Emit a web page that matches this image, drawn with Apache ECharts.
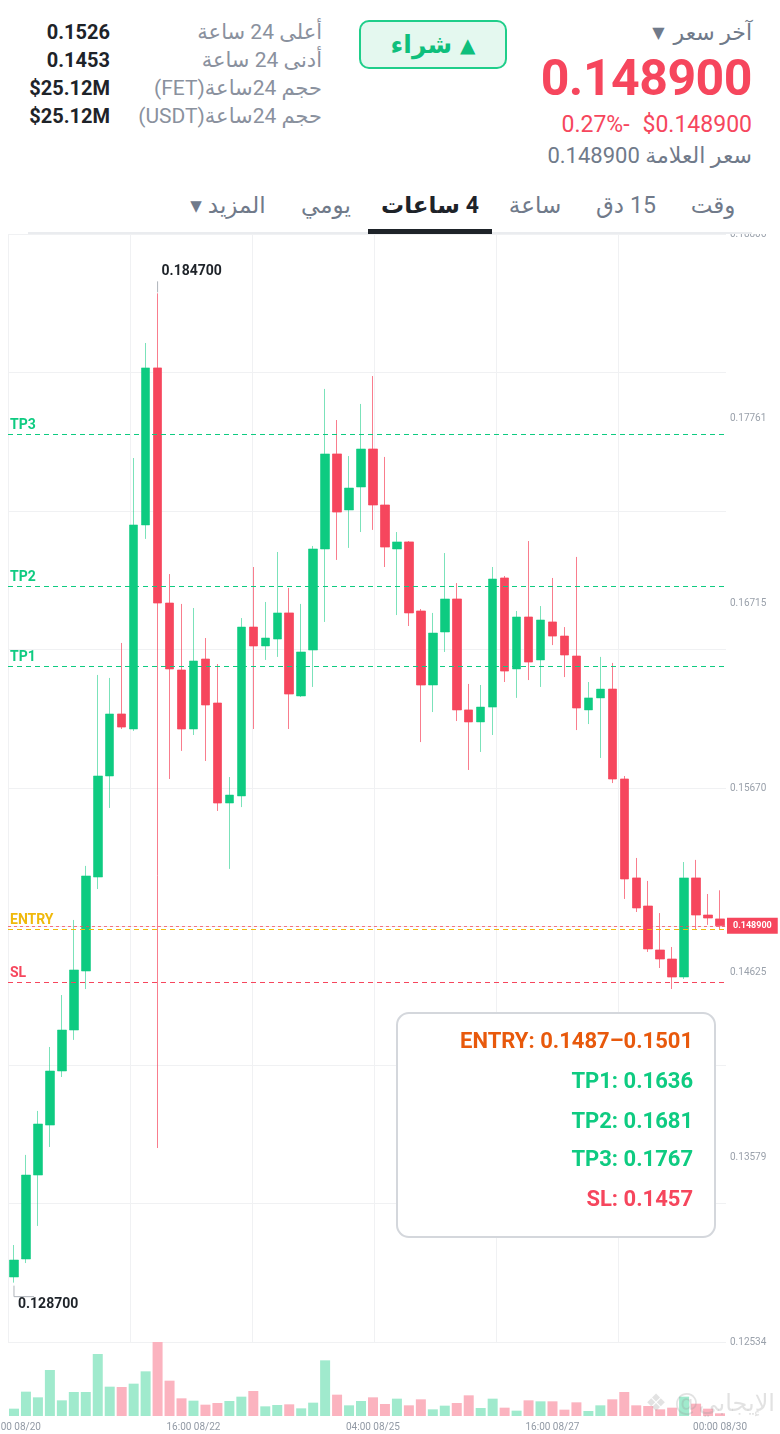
<!DOCTYPE html>
<html>
<head>
<meta charset="utf-8">
<script src="https://cdn.jsdelivr.net/npm/echarts@6/dist/echarts.min.js"></script>
<style>
html,body{margin:0;padding:0;background:#fff;width:780px;height:1434px;overflow:hidden;font-family:Roboto,"DejaVu Sans","Noto Sans",sans-serif;}
.t{position:absolute;white-space:nowrap;height:30px;line-height:30px;}
.lab{font-size:21px;color:#8a919e;direction:rtl;}
.val{font-size:20px;color:#1e2329;font-weight:bold;}
.tab{position:absolute;white-space:nowrap;height:30px;line-height:30px;font-size:23px;color:#707a8a;transform:translateX(-50%);top:191px;display:flex;gap:6px;}
#chart{position:absolute;left:-20px;top:214px;width:800px;height:1220px;}
#hdr{position:absolute;left:0;top:0;width:780px;height:234px;z-index:5;background:#fff;}
</style>
</head>
<body>
<div id="chart"></div>
<div id="hdr">
  <div class="t" style="right:28px;top:18px;font-size:22px;color:#707a8a;display:flex;gap:9px;"><span style="font-size:16px;">▼</span><span style="direction:rtl;">آخر سعر</span></div>
  <div class="t" style="right:28px;top:48px;height:60px;line-height:60px;font-size:50px;font-weight:bold;color:#f6465d;letter-spacing:-0.5px;">0.148900</div>
  <div class="t" style="right:28px;top:110px;font-size:23px;color:#f6465d;display:flex;gap:13px;"><span>0.27%-</span><span>$0.148900</span></div>
  <div class="t" style="right:28px;top:141px;font-size:22px;color:#707a8a;direction:rtl;">سعر العلامة 0.148900</div>

  <div style="position:absolute;left:359px;top:20px;width:144px;height:45px;border:2px solid #1fce8a;border-radius:10px;background:#e4f8ef;display:flex;align-items:center;justify-content:center;gap:8px;">
    <span style="font-size:25px;font-weight:bold;color:#0fbf7c;">شراء</span><span style="font-size:20px;color:#0fbf7c;">▲</span>
  </div>

  <div class="t lab" style="right:458px;top:17px;">أعلى 24 ساعة</div>
  <div class="t lab" style="right:458px;top:45px;">أدنى 24 ساعة</div>
  <div class="t lab" style="right:458px;top:73px;">حجم 24ساعة(FET)</div>
  <div class="t lab" style="right:458px;top:101px;">حجم 24ساعة(USDT)</div>
  <div class="t val" style="right:670px;top:17px;">0.1526</div>
  <div class="t val" style="right:670px;top:45px;">0.1453</div>
  <div class="t val" style="right:670px;top:73px;">$25.12M</div>
  <div class="t val" style="right:670px;top:101px;">$25.12M</div>

  <div class="tab" style="left:713px;"><span>وقت</span></div>
  <div class="tab" style="left:626px;"><span>دق</span><span>15</span></div>
  <div class="tab" style="left:535px;"><span>ساعة</span></div>
  <div class="tab" style="left:430px;color:#1e2329;font-weight:bold;"><span>ساعات</span><span>4</span></div>
  <div class="tab" style="left:326px;"><span>يومي</span></div>
  <div class="tab" style="left:228px;"><span style="font-size:15px;">▼</span><span>المزيد</span></div>

  <div style="position:absolute;left:28px;top:232px;width:724px;height:2px;background:#eaecef;"></div>
  <div style="position:absolute;left:368px;top:229px;width:124px;height:5px;background:#1e2329;"></div>
</div>
<script>
// ---- data ----
const opens  = [0.12902,0.13004,0.13479,0.13762,0.14068,0.14300,0.14634,0.15166,0.15738,0.16089,
                0.16004,0.17159,0.18048,0.16717,0.16338,0.16004,0.16400,0.16151,0.15585,0.15625,
                0.16581,0.16474,0.16513,0.16661,0.16191,0.16451,0.17023,0.17561,0.17244,0.17374,
                0.17589,0.17272,0.17023,0.17063,0.16672,0.16253,0.16553,0.16740,0.16112,0.16044,
                0.16128,0.16859,0.16344,0.16638,0.16395,0.16610,0.16530,0.16417,0.16112,0.16180,
                0.16230,0.15721,0.15161,0.15002,0.14753,0.14702,0.14600,0.15161,0.14951,0.14929];
const closes = [0.12998,0.13479,0.13768,0.14068,0.14300,0.14640,0.15172,0.15738,0.16089,0.16015,
                0.17159,0.18048,0.16717,0.16344,0.16004,0.16389,0.16140,0.15585,0.15630,0.16581,
                0.16474,0.16519,0.16661,0.16202,0.16440,0.17023,0.17561,0.17232,0.17368,0.17589,
                0.17272,0.17034,0.17063,0.16661,0.16253,0.16547,0.16740,0.16112,0.16044,0.16128,
                0.16853,0.16332,0.16638,0.16383,0.16621,0.16530,0.16423,0.16123,0.16180,0.16230,
                0.15721,0.15155,0.14991,0.14759,0.14702,0.14600,0.15161,0.14951,0.14934,0.14890];
const lows   = [0.12870,0.12981,0.13191,0.13638,0.14034,0.14244,0.14532,0.15098,0.15557,0.16004,
                0.15993,0.17080,0.13632,0.15721,0.15880,0.15970,0.15823,0.15540,0.15212,0.15562,
                0.16004,0.16395,0.16412,0.16004,0.16185,0.16242,0.16610,0.16961,0.17029,0.17119,
                0.17131,0.16921,0.16649,0.16587,0.15930,0.16100,0.16440,0.16049,0.15772,0.15874,
                0.15970,0.16270,0.16180,0.16281,0.16242,0.16479,0.16298,0.15998,0.16032,0.15840,
                0.15698,0.15042,0.14968,0.14742,0.14651,0.14532,0.14589,0.14866,0.14895,0.14872];
const highs  = [0.13083,0.13593,0.13842,0.14204,0.14498,0.14923,0.15229,0.16310,0.16293,0.16491,
                0.17538,0.18189,0.18470,0.16881,0.16712,0.16689,0.16519,0.16372,0.15732,0.16632,
                0.16921,0.16723,0.17006,0.16802,0.16712,0.17040,0.17929,0.17753,0.17549,0.17844,
                0.18002,0.17544,0.17119,0.17068,0.16683,0.16661,0.17000,0.16830,0.16259,0.16253,
                0.16921,0.16870,0.16672,0.17068,0.16700,0.16859,0.16581,0.16978,0.16270,0.16412,
                0.16378,0.15738,0.15274,0.15144,0.14962,0.14770,0.15251,0.15263,0.15070,0.15091];
const volumes = [22,73,56,138,47,72,72,186,88,87,
                 97,134,222,106,53,46,34,39,45,58,
                 75,29,33,35,23,40,167,64,32,45,
                 56,36,52,32,50,20,31,39,62,24,
                 52,25,16,47,44,44,19,41,15,32,
                 50,72,32,30,20,25,58,37,22,8];
const tickIndex  = [0,15,30,45,59];
const tickLabels = ['00:00 08/20','16:00 08/22','04:00 08/25','16:00 08/27','00:00 08/30'];
const priceAxisMin = 0.12534, priceAxisMax = 0.18806;
const priceAxisLabels = [0.12534,0.13579,0.14625,0.15670,0.16715,0.17761,0.18806];
const levelNames  = ['TP3','TP2','TP1','ENTRY','SL'];
const levelValues = [0.1767,0.1681,0.1636,0.1487,0.1457];
const levelColors = ['#0ecb81','#0ecb81','#0ecb81','#f0b90b','#f6465d'];
const lastPrice = 0.1489;
const infoLines  = ['ENTRY: 0.1487–0.1501','TP1: 0.1636','TP2: 0.1681','TP3: 0.1767','SL: 0.1457'];
const infoColors = ['#e8590c','#0ecb81','#0ecb81','#0ecb81','#f6465d'];

const categories = opens.map((_, i) => String(i));
const candleData = opens.map((o, i) => [o, closes[i], lows[i], highs[i]]);
const UP = '#0ecb81', DOWN = '#f6465d';
const OX = 20, OY = 20; // canvas extends 20px left of and above the visible chart frame

const chart = echarts.init(document.getElementById('chart'), null, {renderer:'canvas'});
const gridLineColor = '#f0f1f3';
const levelLines = levelNames.map((n, k) => ({
  yAxis: levelValues[k],
  lineStyle: {color: levelColors[k], type: [5,4], width: 1},
  label: {show: true, formatter: n, position: 'insideStartTop', distance: 2,
          color: levelColors[k], fontSize: 14, fontWeight: 'bold', fontFamily: 'Roboto, sans-serif'}
}));
levelLines.push({
  yAxis: lastPrice,
  lineStyle: {color: 'rgba(246,70,93,0.75)', type: [3,3], width: 1},
  label: {show: true, position: 'end', distance: 1, formatter: lastPrice.toFixed(6),
          backgroundColor: DOWN, color: '#fff', fontSize: 9, fontWeight: 'bold',
          padding: [4,6,3,6], fontFamily: 'Roboto, sans-serif'}
});

chart.setOption({
  animation: false,
  textStyle: {fontFamily: 'Roboto, sans-serif'},
  grid: [
    {left: 8 + OX, right: 54, top: OY, height: 1108},
    {left: 8 + OX, right: 54, top: OY + 1108, height: 74}
  ],
  xAxis: [
    {type: 'category', gridIndex: 0, data: categories, boundaryGap: true,
     axisLine: {show: false}, axisTick: {show: false}, axisLabel: {show: false}, splitLine: {show: false}},
    {type: 'value', gridIndex: 0, min: 0, max: 718, interval: 122, position: 'top',
     axisLine: {show: false}, axisTick: {show: false}, axisLabel: {show: false},
     splitLine: {show: true, showMaxLine: false, lineStyle: {color: gridLineColor, width: 1}}},
    {type: 'category', gridIndex: 1, data: categories, boundaryGap: true,
     axisLine: {show: false}, axisTick: {show: false}, splitLine: {show: false},
     axisLabel: {interval: (i) => tickIndex.indexOf(i) >= 0,
                 formatter: (v, i) => tickLabels[tickIndex.indexOf(i)] || '',
                 color: '#929aa5', fontSize: 10, margin: 6}}
  ],
  yAxis: [
    {type: 'value', gridIndex: 0, position: 'right', min: priceAxisMin, max: priceAxisMax, scale: true,
     axisLine: {show: false}, axisTick: {show: false}, splitLine: {show: false},
     axisLabel: {customValues: priceAxisLabels, formatter: (v) => v.toFixed(5),
                 color: '#9aa1ab', fontSize: 10, margin: 4}},
    {type: 'value', gridIndex: 0, position: 'left', min: 0, max: 8, interval: 1,
     axisLine: {show: false}, axisTick: {show: false}, axisLabel: {show: false},
     splitLine: {show: true, lineStyle: {color: gridLineColor, width: 1}}},
    {type: 'value', gridIndex: 1, min: 0, max: Math.max(...volumes), show: false, splitLine: {show: false}}
  ],
  series: [
    {type: 'candlestick', xAxisIndex: 0, yAxisIndex: 0, data: candleData, barWidth: 9,
     itemStyle: {color: UP, color0: DOWN, borderColor: 'rgba(14,203,129,0.55)',
                 borderColor0: 'rgba(246,70,93,0.7)', borderWidth: 1},
     markLine: {silent: true, symbol: ['none','none'], animation: false, precision: 6, data: levelLines}},
    {type: 'bar', xAxisIndex: 2, yAxisIndex: 2, barWidth: 10,
     data: volumes.map((v, i) => ({value: v, itemStyle: {color: closes[i] >= opens[i] ? '#a0eacd' : '#fbb3bf'}}))}
  ]
});

// annotations positioned through the chart's own scales
const hiIdx = highs.indexOf(Math.max(...highs));
const loIdx = lows.indexOf(Math.min(...lows));
const hp = chart.convertToPixel({xAxisIndex: 0, yAxisIndex: 0}, [hiIdx, highs[hiIdx]]);
const lp = chart.convertToPixel({xAxisIndex: 0, yAxisIndex: 0}, [loIdx, lows[loIdx]]);
const boxLeft = 397 + OX, boxTop = 779 + OY, boxW = 318, boxH = 224;
const graphics = [
  {type: 'line', shape: {x1: hp[0], y1: hp[1]-12, x2: hp[0], y2: hp[1]-1}, style: {stroke: '#aeb3ba', lineWidth: 1}, z: 50},
  {type: 'text', x: hp[0]+4, y: hp[1]-22, style: {text: highs[hiIdx].toFixed(6), font: 'bold 14px Roboto, sans-serif', fill: '#1e2329', textAlign: 'left', textVerticalAlign: 'middle'}, z: 50},
  {type: 'polyline', shape: {points: [[lp[0], lp[1]+3], [lp[0], lp[1]+14], [lp[0]+20, lp[1]+14]]}, style: {stroke: '#aeb3ba', lineWidth: 1, fill: null}, z: 50},
  {type: 'text', x: lp[0]+4, y: lp[1]+22, style: {text: lows[loIdx].toFixed(6), font: 'bold 14px Roboto, sans-serif', fill: '#1e2329', textAlign: 'left', textVerticalAlign: 'middle'}, z: 50},
  {type: 'rect', shape: {x: boxLeft, y: boxTop, width: boxW, height: boxH, r: 12}, style: {fill: '#ffffff', stroke: '#d4d7dc', lineWidth: 2}, z: 100},
  {type: 'text', x: 775 + OX, y: 1171 + OY, style: {text: '❖ @الإيجابي', font: '24px "DejaVu Sans", sans-serif', fill: 'rgba(150,150,150,0.28)', textAlign: 'right', textVerticalAlign: 'middle'}, z: 120}
];
const infoY = [808, 848, 888, 926, 966];
infoLines.forEach((t, k) => {
  graphics.push({type: 'text', x: 693 + OX, y: infoY[k] + OY, style: {text: t, font: 'bold 22px Roboto, sans-serif', fill: infoColors[k], textAlign: 'right', textVerticalAlign: 'middle'}, z: 101});
});
chart.setOption({graphic: graphics});
</script>
</body>
</html>
